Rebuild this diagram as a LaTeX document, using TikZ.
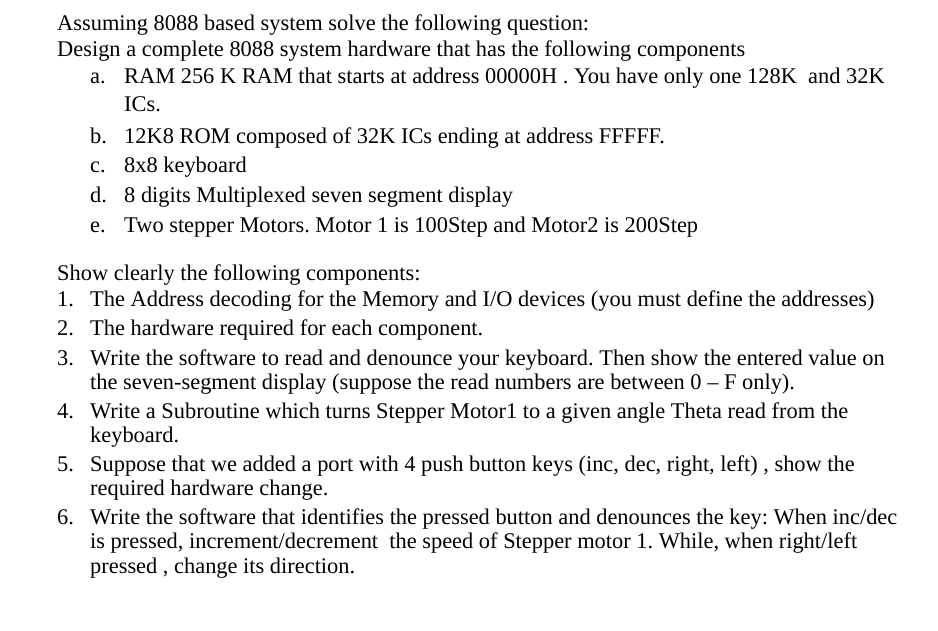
\documentclass[tikz,border=0pt]{standalone}
\usepackage{fontspec}
\setmainfont{Liberation Serif}
\frenchspacing
\begin{document}
\begin{tikzpicture}[x=1pt,y=-1pt,
  txt/.style={anchor=base west,inner sep=0pt,font=\fontsize{22.4}{25}\selectfont}]
\fill[white] (0,0) rectangle (938,630);
\useasboundingbox (0,0) rectangle (938,630);
\node[txt] (l1) at (57,30) {Assuming 8088 based system solve the following question:};
\node[txt] (l2) at (57,56) {Design a complete 8088 system hardware that has the following components};
\node[txt] (ma) at (90,83) {a.};
\node[txt] (ta) at (124,83) {RAM 256 K RAM that starts at address 00000H . You have only one 128K\ \ and 32K};
\node[txt] (ta2) at (124,111) {ICs.};
\node[txt] (mb) at (90,143) {b.};
\node[txt] (tb) at (124,143) {12K8 ROM composed of 32K ICs ending at address FFFFF.};
\node[txt] (mc) at (90,172) {c.};
\node[txt] (tc) at (124,172) {8x8 keyboard};
\node[txt] (md) at (90,202) {d.};
\node[txt] (td) at (124,202) {8 digits Multiplexed seven segment display};
\node[txt] (me) at (90,232) {e.};
\node[txt] (te) at (124,232) {Two stepper Motors. Motor 1 is 100Step and Motor2 is 200Step};
\node[txt] (s) at (57,280) {Show clearly the following components:};
\node[txt] (m1) at (57,306) {1.};
\node[txt] (t1) at (90,306) {The Address decoding for the Memory and I/O devices (you must define the addresses)};
\node[txt] (m2) at (57,335) {2.};
\node[txt] (t2) at (90,335) {The hardware required for each component.};
\node[txt] (m3) at (57,365) {3.};
\node[txt] (t3) at (90,365) {Write the software to read and denounce your keyboard. Then show the entered value on};
\node[txt] (t3b) at (90,389) {the seven-segment display (suppose the read numbers are between 0 -- F only).};
\node[txt] (m4) at (57,418) {4.};
\node[txt] (t4) at (90,418) {Write a Subroutine which turns Stepper Motor1 to a given angle Theta read from the};
\node[txt] (t4b) at (90,442) {keyboard.};
\node[txt] (m5) at (57,471) {5.};
\node[txt] (t5) at (90,471) {Suppose that we added a port with 4 push button keys (inc, dec, right, left) , show the};
\node[txt] (t5b) at (90,495) {required hardware change.};
\node[txt] (m6) at (57,524) {6.};
\node[txt] (t6) at (90,524) {Write the software that identifies the pressed button and denounces the key: When inc/dec};
\node[txt] (t6b) at (90,548) {is pressed, increment/decrement\ \ the speed of Stepper motor 1. While, when right/left};
\node[txt] (t6c) at (90,573) {pressed , change its direction.};
\end{tikzpicture}
\end{document}
